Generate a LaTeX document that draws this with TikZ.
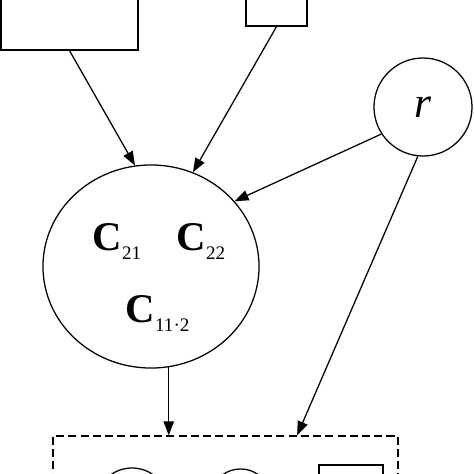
\documentclass[tikz,border=0pt]{standalone}
\usepackage{fontspec}
\setmainfont{Liberation Serif}
\usetikzlibrary{shapes.geometric,arrows.meta}
\newcommand{\cvar}[1]{\textbf{C}\raisebox{-6.4pt}{\fontsize{13.6}{14}\selectfont #1}}

\begin{document}
\begin{tikzpicture}[x=0.025cm, y=-0.025cm, line width=0.9pt, >={Triangle[length=0.35cm,width=0.26cm]}, every node/.style={inner sep=0pt}, box/.style={draw, rectangle}, cfont/.style={font=\fontsize{29}{30}\selectfont, anchor=base west}]
\clip (0,0) rectangle (474,474);
\node[box, minimum width=3.425cm, minimum height=2.25cm] (A) at (69.5,5) {};
\node[box, minimum width=1.525cm, minimum height=1.15cm] (B) at (276.5,3) {};
\node[draw, circle, minimum size=2.45cm, font=\fontsize{31}{32}\selectfont\itshape] (r) at (423,107) {r};
\node[draw, ellipse, minimum width=5.4cm, minimum height=5.075cm] (C) at (151,266.5) {};
\node[cfont] (c21) at (92,250) {\cvar{21}};
\node[cfont] (c22) at (176,250) {\cvar{22}};
\node[cfont] (c112) at (125,322) {\cvar{11·2}};
\node[draw, dash pattern=on 5.7pt off 3pt, minimum width=8.625cm, minimum height=2.6cm] (D) at (225.5,488) {};
% shapes inside the dashed box
\node[draw, ellipse, minimum width=1.4cm, minimum height=1cm] (e1) at (132,488) {};
\node[draw, ellipse, minimum width=1.2cm, minimum height=0.9cm] (e2) at (240.5,487) {};
\node[box, minimum width=1.6cm, minimum height=0.875cm] (R) at (351,482.5) {};
\draw[->] (A.south) -- (C.99);
\draw[->] (B.south) -- (C.66);
\draw[->] (r.213) -- (C.38);
\draw[->] (r.264) -- ([xshift=1.79cm]D.north);
\draw[->] (C.-80) -- (C.-80 |- D.north);
\end{tikzpicture}
\end{document}
